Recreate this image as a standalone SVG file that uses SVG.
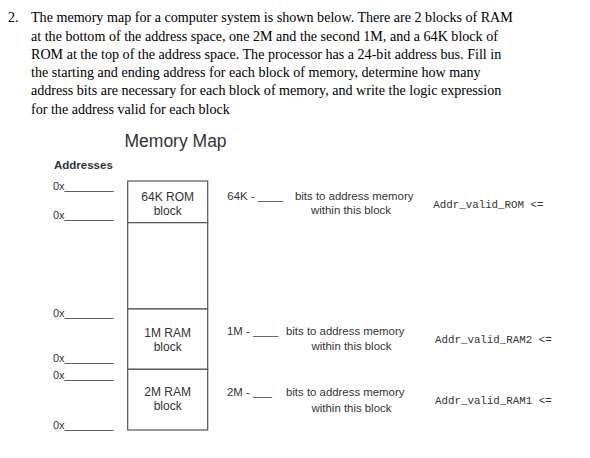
<svg xmlns="http://www.w3.org/2000/svg" width="590" height="458" viewBox="0 0 590 458">
<style>
.q{font-family:"Liberation Serif","Times New Roman",serif;font-size:14.1px;fill:#000}
.s{font-family:"Liberation Sans",Arial,sans-serif;fill:#333}
.a{font-size:11px}
.b{font-size:12px;text-anchor:middle}
.r{font-size:11.4px}
.c{font-family:"Liberation Mono","Courier New",monospace;font-size:10.8px;fill:#333}
.blk{fill:#fff;stroke:#555;stroke-width:1.2}
</style>
<rect width="590" height="458" fill="#fff"/>
<g id="question">
<text class="q" x="8" y="22">2.</text>
<text class="q" x="31" y="22">The memory map for a computer system is shown below. There are 2 blocks of RAM</text>
<text class="q" x="31" y="40.5">at the bottom of the address space, one 2M and the second 1M, and a 64K block of</text>
<text class="q" x="31" y="58.7">ROM at the top of the address space. The processor has a 24-bit address bus. Fill in</text>
<text class="q" x="31" y="77">the starting and ending address for each block of memory, determine how many</text>
<text class="q" x="31" y="95.3">address bits are necessary for each block of memory, and write the logic expression</text>
<text class="q" x="31" y="113.5">for the address valid for each block</text>
</g>
<g id="title"><text class="s" x="124.5" y="146.5" font-size="17.5">Memory Map</text></g>
<g id="addresses">
<text class="s" x="54" y="169" font-size="11.5" font-weight="bold">Addresses</text>
<text class="s a" x="53" y="190">0x________</text>
<text class="s a" x="53" y="219">0x________</text>
<text class="s a" x="53" y="317">0x________</text>
<text class="s a" x="53" y="362">0x________</text>
<text class="s a" x="53" y="379">0x________</text>
<text class="s a" x="53" y="429">0x________</text>
</g>
<g id="rom">
<rect class="blk" x="127.7" y="181" width="80" height="41.7"/>
<text class="s b" x="167.7" y="201">64K ROM</text>
<text class="s b" x="167.7" y="214.5">block</text>
</g>
<g id="unused">
<rect class="blk" x="127.7" y="222.7" width="80" height="86.3"/>
</g>
<g id="ram2">
<rect class="blk" x="127.7" y="309" width="80" height="60.3"/>
<text class="s b" x="167.7" y="337">1M RAM</text>
<text class="s b" x="167.7" y="351">block</text>
</g>
<g id="ram1">
<rect class="blk" x="127.7" y="369.3" width="80" height="60.7"/>
<text class="s b" x="167.7" y="396">2M RAM</text>
<text class="s b" x="167.7" y="410">block</text>
</g>
<g id="connectors"></g>
<g id="rom-notes">
<text class="s r" x="227.3" y="200">64K - ____</text>
<text class="s r" x="295" y="200">bits to address memory</text>
<text class="s r" x="351" y="214" text-anchor="middle">within this block</text>
<text class="c" x="433.3" y="207.5">Addr_valid_ROM &lt;=</text>
</g>
<g id="ram2-notes">
<text class="s r" x="227" y="335">1M - ____</text>
<text class="s r" x="286" y="335">bits to address memory</text>
<text class="s r" x="351.5" y="350" text-anchor="middle">within this block</text>
<text class="c" x="435" y="343">Addr_valid_RAM2 &lt;=</text>
</g>
<g id="ram1-notes">
<text class="s r" x="227" y="395.7">2M - ___</text>
<text class="s r" x="286" y="395.7">bits to address memory</text>
<text class="s r" x="351.5" y="411.5" text-anchor="middle">within this block</text>
<text class="c" x="435" y="404">Addr_valid_RAM1 &lt;=</text>
</g>
</svg>
